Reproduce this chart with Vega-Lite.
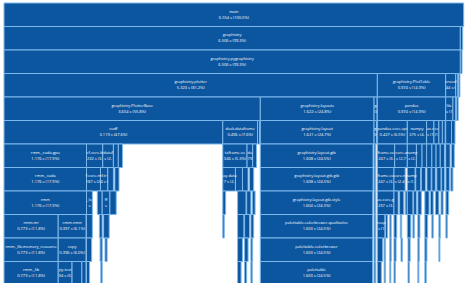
{
  "$schema": "https://vega.github.io/schema/vega-lite/v6.json",
  "width": 474,
  "height": 283,
  "autosize": {"type": "none"},
  "padding": 0,
  "background": "#ffffff",
  "config": {"view": {"stroke": null}},
  "data": {"values": [
    {"d":0,"s":0,"e":6.554,"n":"main","t":"6.554 s (100.0%)"},
    {"d":1,"s":0,"e":6.506,"n":"graphistry","t":"6.506 s (99.3%)"},
    {"d":1,"s":6.506,"e":6.540,"n":"","t":""},
    {"d":2,"s":0,"e":6.506,"n":"graphistry.pygraphistry","t":"6.506 s (99.3%)"},
    {"d":2,"s":6.506,"e":6.530,"n":"","t":""},
    {"d":3,"s":0,"e":5.323,"n":"graphistry.plotter","t":"5.323 s (81.2%)"},
    {"d":3,"s":5.323,"e":6.297,"n":"graphistry.PlotTable","t":"0.974 s (14.9%)"},
    {"d":3,"s":6.297,"e":6.440,"n":"encod","t":"44 s ("},
    {"d":3,"s":6.440,"e":6.470,"n":"","t":""},
    {"d":3,"s":6.480,"e":6.500,"n":"","t":""},
    {"d":4,"s":0,"e":3.654,"n":"graphistry.PlotterBase","t":"3.654 s (55.8%)"},
    {"d":4,"s":3.654,"e":5.276,"n":"graphistry.layouts","t":"1.622 s (24.8%)"},
    {"d":4,"s":5.276,"e":5.318,"n":"g","t":"0"},
    {"d":4,"s":5.323,"e":6.297,"n":"pandas","t":"0.974 s (14.9%)"},
    {"d":4,"s":6.297,"e":6.400,"n":"lib.","t":"s (1"},
    {"d":4,"s":6.400,"e":6.440,"n":"","t":""},
    {"d":4,"s":6.450,"e":6.475,"n":"","t":""},
    {"d":5,"s":0,"e":3.119,"n":"cudf","t":"3.119 s (47.6%)"},
    {"d":5,"s":3.119,"e":3.615,"n":"dask.dataframe","t":"0.496 s (7.6%)"},
    {"d":5,"s":3.615,"e":3.645,"n":"","t":""},
    {"d":5,"s":3.654,"e":5.275,"n":"graphistry.layout","t":"1.621 s (24.7%)"},
    {"d":5,"s":5.276,"e":5.310,"n":"g","t":"0"},
    {"d":5,"s":5.323,"e":5.750,"n":"pandas.core.api","t":"0.427 s (6.5%)"},
    {"d":5,"s":5.750,"e":6.025,"n":"numpy","t":"275 s (4."},
    {"d":5,"s":6.025,"e":6.130,"n":"ax.c","t":"s (1"},
    {"d":5,"s":6.130,"e":6.200,"n":"sc","t":"(1"},
    {"d":5,"s":6.200,"e":6.250,"n":"","t":""},
    {"d":5,"s":6.250,"e":6.290,"n":"","t":""},
    {"d":5,"s":6.297,"e":6.380,"n":"","t":""},
    {"d":5,"s":6.380,"e":6.430,"n":"","t":""},
    {"d":6,"s":0,"e":1.176,"n":"rmm._cuda.gpu","t":"1.176 s (17.9%)"},
    {"d":6,"s":1.176,"e":1.408,"n":"cf.core.b","t":"232 s (3."},
    {"d":6,"s":1.408,"e":1.560,"n":"dataf","t":"s (2."},
    {"d":6,"s":1.560,"e":1.630,"n":"","t":""},
    {"d":6,"s":1.630,"e":1.690,"n":"","t":""},
    {"d":6,"s":3.119,"e":3.465,"n":"taframe.co","t":"346 s (5.3%)"},
    {"d":6,"s":3.465,"e":3.545,"n":"da","t":"79"},
    {"d":6,"s":3.545,"e":3.600,"n":"","t":""},
    {"d":6,"s":3.654,"e":5.262,"n":"graphistry.layout.gib","t":"1.608 s (24.5%)"},
    {"d":6,"s":5.276,"e":5.300,"n":"","t":""},
    {"d":6,"s":5.323,"e":5.570,"n":"frame.co","t":"247 s (3."},
    {"d":6,"s":5.570,"e":5.750,"n":"core.a","t":"s (2.7"},
    {"d":6,"s":5.750,"e":5.880,"n":"nump","t":"s (2."},
    {"d":6,"s":5.880,"e":5.960,"n":"","t":""},
    {"d":6,"s":5.960,"e":6.025,"n":"","t":""},
    {"d":6,"s":6.025,"e":6.100,"n":"","t":""},
    {"d":6,"s":6.100,"e":6.160,"n":"","t":""},
    {"d":6,"s":6.160,"e":6.220,"n":"","t":""},
    {"d":6,"s":6.220,"e":6.280,"n":"","t":""},
    {"d":6,"s":6.297,"e":6.360,"n":"","t":""},
    {"d":6,"s":6.380,"e":6.420,"n":"","t":""},
    {"d":7,"s":0,"e":1.176,"n":"rmm._cuda","t":"1.176 s (17.9%)"},
    {"d":7,"s":1.176,"e":1.376,"n":"f.core.m","t":"187 s (2."},
    {"d":7,"s":1.376,"e":1.480,"n":"f.tr","t":"4 s ("},
    {"d":7,"s":1.480,"e":1.560,"n":"","t":""},
    {"d":7,"s":1.580,"e":1.640,"n":"","t":""},
    {"d":7,"s":3.119,"e":3.300,"n":"ray.data","t":"7 s (2."},
    {"d":7,"s":3.300,"e":3.400,"n":"","t":""},
    {"d":7,"s":3.400,"e":3.480,"n":"","t":""},
    {"d":7,"s":3.500,"e":3.560,"n":"","t":""},
    {"d":7,"s":3.654,"e":5.262,"n":"graphistry.layout.gib.gib","t":"1.608 s (24.5%)"},
    {"d":7,"s":5.276,"e":5.300,"n":"","t":""},
    {"d":7,"s":5.323,"e":5.560,"n":"frame.co","t":"247 s (3."},
    {"d":7,"s":5.560,"e":5.720,"n":"core.n","t":"s (2.4"},
    {"d":7,"s":5.750,"e":5.860,"n":"nump","t":"s (1."},
    {"d":7,"s":5.870,"e":5.940,"n":"","t":""},
    {"d":7,"s":5.950,"e":6.010,"n":"","t":""},
    {"d":7,"s":6.030,"e":6.090,"n":"","t":""},
    {"d":7,"s":6.100,"e":6.150,"n":"","t":""},
    {"d":7,"s":6.170,"e":6.230,"n":"","t":""},
    {"d":7,"s":6.240,"e":6.280,"n":"","t":""},
    {"d":7,"s":6.300,"e":6.350,"n":"","t":""},
    {"d":7,"s":6.370,"e":6.400,"n":"","t":""},
    {"d":8,"s":0,"e":1.176,"n":"rmm","t":"1.176 s (17.9%)"},
    {"d":8,"s":1.176,"e":1.260,"n":"_lo","t":"s"},
    {"d":8,"s":1.330,"e":1.400,"n":"","t":""},
    {"d":8,"s":1.400,"e":1.510,"n":"ff","t":"s"},
    {"d":8,"s":1.510,"e":1.600,"n":"","t":""},
    {"d":8,"s":3.119,"e":3.160,"n":"","t":""},
    {"d":8,"s":3.330,"e":3.450,"n":"","t":""},
    {"d":8,"s":3.460,"e":3.520,"n":"","t":""},
    {"d":8,"s":3.540,"e":3.580,"n":"","t":""},
    {"d":8,"s":3.654,"e":5.258,"n":"graphistry.layout.gib.style","t":"1.604 s (24.5%)"},
    {"d":8,"s":5.276,"e":5.300,"n":"","t":""},
    {"d":8,"s":5.323,"e":5.560,"n":"as.core.g","t":"237 s (3."},
    {"d":8,"s":5.560,"e":5.620,"n":"","t":""},
    {"d":8,"s":5.640,"e":5.700,"n":"","t":""},
    {"d":8,"s":5.720,"e":5.750,"n":"","t":""},
    {"d":8,"s":5.750,"e":5.830,"n":"","t":""},
    {"d":8,"s":5.840,"e":5.880,"n":"","t":""},
    {"d":8,"s":5.900,"e":5.950,"n":"","t":""},
    {"d":8,"s":6.000,"e":6.060,"n":"","t":""},
    {"d":8,"s":6.080,"e":6.120,"n":"","t":""},
    {"d":8,"s":6.150,"e":6.200,"n":"","t":""},
    {"d":8,"s":6.230,"e":6.260,"n":"","t":""},
    {"d":8,"s":6.300,"e":6.340,"n":"","t":""},
    {"d":9,"s":0,"e":0.773,"n":"rmm.mr","t":"0.773 s (11.8%)"},
    {"d":9,"s":0.773,"e":1.170,"n":"rmm.rmm","t":"0.397 s (6.1%)"},
    {"d":9,"s":1.176,"e":1.260,"n":"","t":""},
    {"d":9,"s":1.360,"e":1.400,"n":"","t":""},
    {"d":9,"s":1.420,"e":1.500,"n":"","t":""},
    {"d":9,"s":3.119,"e":3.140,"n":"","t":""},
    {"d":9,"s":3.330,"e":3.420,"n":"","t":""},
    {"d":9,"s":3.430,"e":3.500,"n":"","t":""},
    {"d":9,"s":3.520,"e":3.560,"n":"","t":""},
    {"d":9,"s":3.654,"e":5.257,"n":"palettable.colorbrewer.qualitative","t":"1.603 s (24.5%)"},
    {"d":9,"s":5.276,"e":5.300,"n":"","t":""},
    {"d":9,"s":5.323,"e":5.430,"n":"roup","t":"s (1"},
    {"d":9,"s":5.440,"e":5.470,"n":"","t":""},
    {"d":9,"s":5.500,"e":5.520,"n":"","t":""},
    {"d":9,"s":5.560,"e":5.600,"n":"","t":""},
    {"d":9,"s":5.650,"e":5.670,"n":"","t":""},
    {"d":9,"s":5.750,"e":5.800,"n":"","t":""},
    {"d":9,"s":5.830,"e":5.850,"n":"","t":""},
    {"d":9,"s":5.900,"e":5.930,"n":"","t":""},
    {"d":9,"s":6.000,"e":6.040,"n":"","t":""},
    {"d":9,"s":6.100,"e":6.120,"n":"","t":""},
    {"d":9,"s":6.200,"e":6.220,"n":"","t":""},
    {"d":9,"s":6.300,"e":6.320,"n":"","t":""},
    {"d":10,"s":0,"e":0.773,"n":"rmm._lib.memory_resource","t":"0.773 s (11.8%)"},
    {"d":10,"s":0.773,"e":1.169,"n":"copy","t":"0.396 s (6.0%)"},
    {"d":10,"s":1.176,"e":1.250,"n":"","t":""},
    {"d":10,"s":1.370,"e":1.400,"n":"","t":""},
    {"d":10,"s":1.440,"e":1.470,"n":"","t":""},
    {"d":10,"s":3.330,"e":3.400,"n":"","t":""},
    {"d":10,"s":3.430,"e":3.480,"n":"","t":""},
    {"d":10,"s":3.520,"e":3.545,"n":"","t":""},
    {"d":10,"s":3.654,"e":5.257,"n":"palettable.colorbrewer","t":"1.603 s (24.5%)"},
    {"d":10,"s":5.276,"e":5.300,"n":"","t":""},
    {"d":10,"s":5.323,"e":5.400,"n":"","t":""},
    {"d":10,"s":5.420,"e":5.440,"n":"","t":""},
    {"d":10,"s":5.500,"e":5.520,"n":"","t":""},
    {"d":10,"s":5.560,"e":5.590,"n":"","t":""},
    {"d":10,"s":5.660,"e":5.680,"n":"","t":""},
    {"d":10,"s":5.760,"e":5.790,"n":"","t":""},
    {"d":10,"s":5.900,"e":5.920,"n":"","t":""},
    {"d":10,"s":6.000,"e":6.030,"n":"","t":""},
    {"d":10,"s":6.200,"e":6.215,"n":"","t":""},
    {"d":11,"s":0,"e":0.773,"n":"rmm._lib","t":"0.773 s (11.8%)"},
    {"d":11,"s":0.773,"e":0.970,"n":"py.test","t":"94 s (3."},
    {"d":11,"s":0.970,"e":1.110,"n":"","t":""},
    {"d":11,"s":1.110,"e":1.169,"n":"","t":""},
    {"d":11,"s":1.176,"e":1.220,"n":"","t":""},
    {"d":11,"s":1.380,"e":1.400,"n":"","t":""},
    {"d":11,"s":3.330,"e":3.380,"n":"","t":""},
    {"d":11,"s":3.430,"e":3.460,"n":"","t":""},
    {"d":11,"s":3.520,"e":3.540,"n":"","t":""},
    {"d":11,"s":3.654,"e":5.257,"n":"palettable","t":"1.603 s (24.5%)"},
    {"d":11,"s":5.276,"e":5.300,"n":"","t":""},
    {"d":11,"s":5.323,"e":5.380,"n":"","t":""},
    {"d":11,"s":5.420,"e":5.440,"n":"","t":""},
    {"d":11,"s":5.500,"e":5.515,"n":"","t":""},
    {"d":11,"s":5.560,"e":5.580,"n":"","t":""},
    {"d":11,"s":5.760,"e":5.780,"n":"","t":""},
    {"d":11,"s":5.900,"e":5.915,"n":"","t":""},
    {"d":11,"s":6.000,"e":6.020,"n":"","t":""}
  ]},
  "encoding": {
    "y": {"field": "d", "type": "ordinal", "axis": null,
          "scale": {"domain": [0,1,2,3,4,5,6,7,8,9,10,11], "range": [3, 285], "paddingInner": 0, "paddingOuter": 0}}
  },
  "layer": [
    {"mark": {"type": "rect", "fill": "#0c559f", "stroke": "#7db9ec", "strokeWidth": 1},
     "encoding": {
       "x": {"field": "s", "type": "quantitative", "axis": null,
             "scale": {"domain": [0, 6.554], "range": [4, 463.7], "nice": false, "zero": false}},
       "x2": {"field": "e"}}},
    {"transform": [{"filter": "datum.n != ''"}, {"fold": ["s", "e"], "as": ["k", "v"]}],
     "mark": {"type": "text", "color": "#ffffff", "fontSize": 4, "font": "Open Sans", "align": "center", "baseline": "middle", "dy": -3},
     "encoding": {
       "x": {"field": "v", "aggregate": "mean", "type": "quantitative", "axis": null,
             "scale": {"domain": [0, 6.554], "range": [4, 463.7], "nice": false, "zero": false}},
       "detail": {"field": "t"},
       "text": {"field": "n"}}},
    {"transform": [{"filter": "datum.n != ''"}, {"fold": ["s", "e"], "as": ["k", "v"]}],
     "mark": {"type": "text", "color": "#ffffff", "fontSize": 4, "font": "Open Sans", "align": "center", "baseline": "middle", "dy": 3},
     "encoding": {
       "x": {"field": "v", "aggregate": "mean", "type": "quantitative", "axis": null,
             "scale": {"domain": [0, 6.554], "range": [4, 463.7], "nice": false, "zero": false}},
       "detail": {"field": "n"},
       "text": {"field": "t"}}}
  ]
}
